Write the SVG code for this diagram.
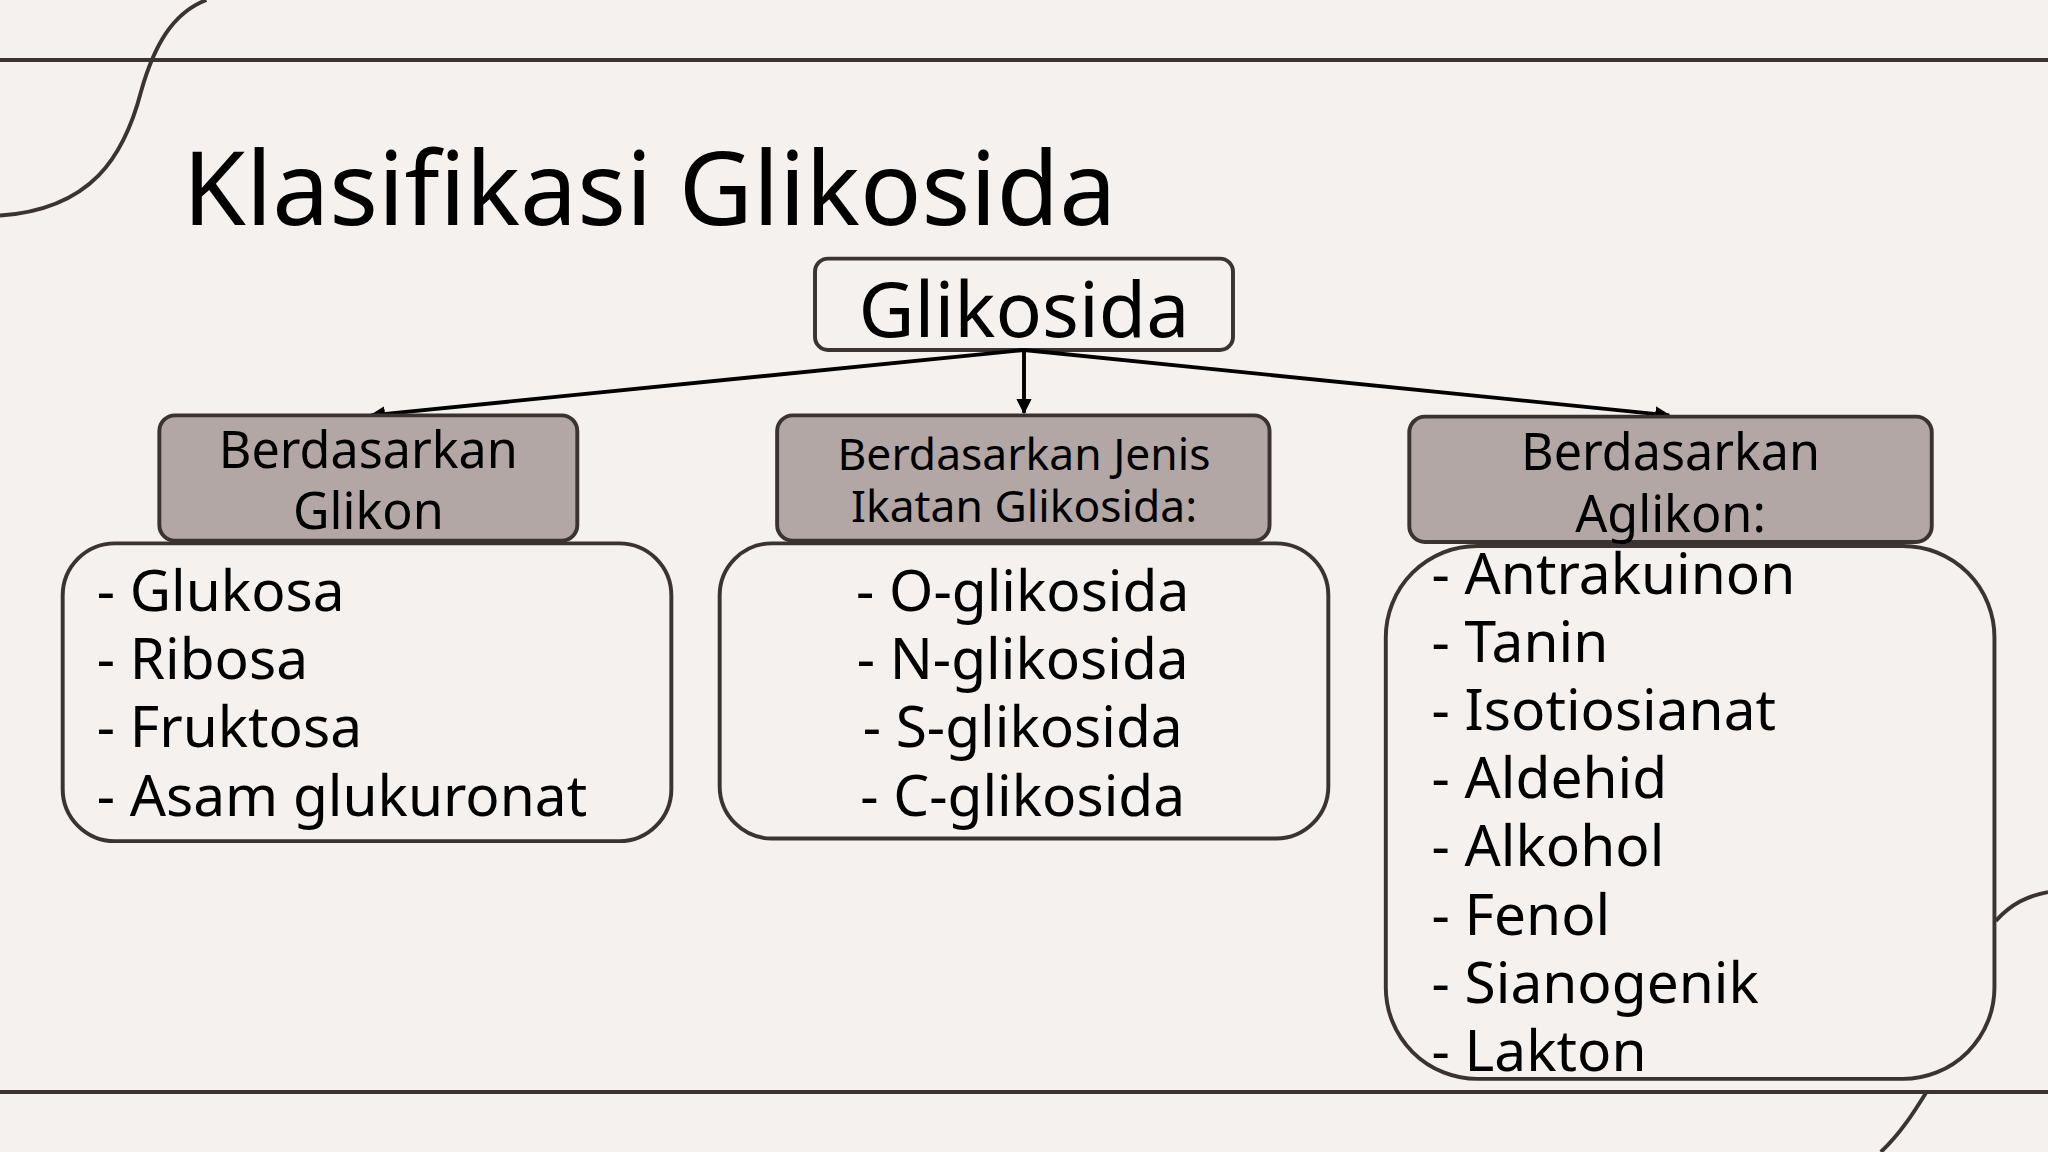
<svg xmlns="http://www.w3.org/2000/svg" width="2048" height="1152" viewBox="0 0 2048 1152">
<defs>
<style>
.ln{stroke:#3a3331;stroke-width:3;fill:none}
.hd{fill:#b3a7a5;stroke:#3a3331;stroke-width:3}
.bx{fill:none;stroke:#3a3331;stroke-width:3}
text{font-family:"Noto Sans","Open Sans",sans-serif;fill:#000}
.c{stroke:#000;stroke-width:3;fill:none}
</style>
<marker id="a" viewBox="0 0 10 10" refX="9" refY="5" markerWidth="4" markerHeight="4" orient="auto"><path d="M0,0L10,5L0,10z" fill="#000"/></marker>
</defs>
<rect width="2048" height="1152" fill="#f4f1ee"/>
<g transform="scale(1.306122)">
<line class="ln" x1="0" y1="46" x2="1568" y2="46"/>
<line class="ln" x1="0" y1="836" x2="1568" y2="836"/>
<path class="ln" d="M0,165 C70,160 95,120 108,70 C118,35 132,10 158,0"/>
<path class="ln" d="M1440,882 C1455,868 1465,852 1475,836"/>
<path class="ln" d="M1528,705 C1540,692 1552,686 1568,683"/>
<text x="140" y="172" font-size="78">Klasifikasi Glikosida</text>
<g id="root"><rect class="bx" x="624" y="198" width="320" height="70" rx="10"/><text x="784" y="258" font-size="59" text-anchor="middle">Glikosida</text></g>
<g id="connectors">
<line class="c" x1="784" y1="268" x2="284" y2="318" marker-end="url(#a)"/>
<line class="c" x1="784" y1="268" x2="784" y2="316" marker-end="url(#a)"/>
<line class="c" x1="784" y1="268" x2="1278" y2="318" marker-end="url(#a)"/>
</g>
<g id="h1"><rect class="hd" x="122" y="318" width="320" height="96" rx="12"/><text font-size="38.5" text-anchor="middle"><tspan x="282" y="358">Berdasarkan</tspan><tspan x="282" y="405">Glikon</tspan></text></g>
<g id="l1"><rect class="bx" x="48" y="416" width="466" height="228" rx="40"/><text font-size="43.5"><tspan x="74" y="468">- Glukosa</tspan><tspan x="74" y="520">- Ribosa</tspan><tspan x="74" y="572">- Fruktosa</tspan><tspan x="74" y="625">- Asam glukuronat</tspan></text></g>
<g id="h2"><rect class="hd" x="595" y="318" width="377" height="96" rx="12"/><text font-size="34" text-anchor="middle"><tspan x="784" y="360">Berdasarkan Jenis</tspan><tspan x="784" y="400">Ikatan Glikosida:</tspan></text></g>
<g id="l2"><rect class="bx" x="551" y="416" width="466" height="226" rx="40"/><text font-size="43.5" text-anchor="middle"><tspan x="783" y="468">- O-glikosida</tspan><tspan x="783" y="520">- N-glikosida</tspan><tspan x="783" y="572">- S-glikosida</tspan><tspan x="783" y="625">- C-glikosida</tspan></text></g>
<g id="h3"><rect class="hd" x="1079" y="319" width="400" height="96" rx="12"/><text font-size="38.5" text-anchor="middle"><tspan x="1279" y="360">Berdasarkan</tspan><tspan x="1279" y="407">Aglikon:</tspan></text></g>
<g id="l3"><rect class="bx" x="1061" y="418" width="466" height="408" rx="70"/><text font-size="43.5"><tspan x="1096" y="455">- Antrakuinon</tspan><tspan x="1096" y="507">- Tanin</tspan><tspan x="1096" y="559">- Isotiosianat</tspan><tspan x="1096" y="611">- Aldehid</tspan><tspan x="1096" y="663">- Alkohol</tspan><tspan x="1096" y="716">- Fenol</tspan><tspan x="1096" y="768">- Sianogenik</tspan><tspan x="1096" y="820">- Lakton</tspan></text></g>
</g>
</svg>
